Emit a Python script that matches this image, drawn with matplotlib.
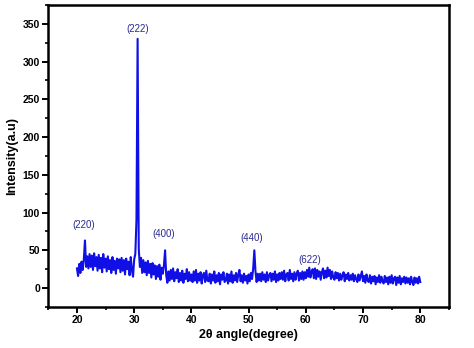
import numpy as np
import matplotlib.pyplot as plt
from matplotlib.ticker import MultipleLocator

plt.rcParams['font.family'] = ['Liberation Sans', 'DejaVu Sans']

# XRD scan, 20-80 deg in 0.2 deg steps
theta_start, theta_step = 20.0, 0.2
intensity = [
    26, 16, 32, 20, 35, 24, 38, 63, 28, 42,
    26, 45, 28, 43, 24, 46, 29, 41, 23, 44,
    26, 40, 21, 45, 27, 39, 22, 42, 25, 37,
    20, 41, 24, 36, 19, 39, 26, 38, 21, 40,
    23, 37, 18, 39, 25, 35, 17, 41, 24, 15,
    38, 45, 90, 330, 52, 28, 40, 20, 37, 21,
    34, 17, 36, 20, 32, 14, 33, 18, 30, 12,
    29, 15, 31, 11, 27, 19, 30, 50, 17, 7,
    22, 10, 24, 12, 26, 9, 21, 13, 25, 8,
    20, 10, 23, 7, 19, 12, 25, 9, 21, 10,
    18, 8, 22, 10, 24, 7, 19, 10, 21, 6,
    17, 20, 8, 23, 10, 9, 19, 6, 18, 10,
    22, 7, 17, 9, 20, 5, 18, 11, 21, 8,
    10, 19, 6, 18, 9, 22, 7, 17, 10, 20,
    8, 18, 24, 9, 17, 7, 19, 10, 16, 6,
    18, 9, 20, 12, 26, 50, 22, 8, 19, 10,
    19, 9, 21, 11, 18, 8, 21, 10, 17, 20,
    9, 19, 11, 22, 8, 18, 10, 20, 12, 21,
    11, 23, 9, 18, 20, 10, 24, 12, 19, 9,
    21, 11, 19, 23, 10, 20, 12, 22, 11, 21,
    13, 24, 15, 27, 14, 22, 25, 13, 26, 12,
    24, 15, 22, 11, 21, 26, 13, 23, 14, 27,
    16, 24, 12, 22, 14, 11, 21, 13, 20, 10,
    19, 11, 17, 21, 9, 18, 12, 20, 10, 17,
    11, 19, 9, 17, 12, 8, 18, 10, 16, 22,
    9, 16, 7, 18, 10, 8, 17, 6, 15, 9,
    16, 5, 14, 8, 17, 7, 15, 9, 6, 16,
    8, 14, 5, 15, 7, 17, 6, 13, 15, 4,
    14, 7, 16, 5, 13, 8, 15, 6, 14, 7,
    13, 5, 15, 8, 4, 14, 7, 13, 6, 15,
    8,
]
two_theta = theta_start + theta_step * np.arange(len(intensity))

# Miller indices and where their labels sit
hkl_labels = ['(220)', '(222)', '(400)', '(440)', '(622)']
hkl_x = [21.1, 30.65, 35.2, 50.6, 60.6]
hkl_y = [84, 343, 72, 66, 37]

fig = plt.figure(figsize=(4.74, 3.48), dpi=100)
ax = fig.add_axes([0.102, 0.118, 0.845, 0.868])

ax.plot(two_theta, intensity, color='#1010e6', linewidth=1.5)

for lab, x, y in zip(hkl_labels, hkl_x, hkl_y):
    ax.text(x, y, lab, color='#2a2a90', fontsize=7, ha='center', va='center')

ax.set_xlim(15, 85)
ax.set_ylim(-25, 375)
ax.xaxis.set_minor_locator(MultipleLocator(5))
ax.yaxis.set_minor_locator(MultipleLocator(25))
ax.set_xticks(np.arange(20, 81, 10))
ax.set_yticks(np.arange(0, 351, 50))

for s in ax.spines.values():
    s.set_linewidth(1.8)
ax.tick_params(which='major', direction='out', length=4, width=1.4, labelsize=7.5, pad=2)
ax.tick_params(which='minor', direction='out', length=2.5, width=1.2)
for lbl in ax.get_xticklabels() + ax.get_yticklabels():
    lbl.set_fontweight('bold')

ax.set_xlabel('2θ angle(degree)', fontsize=9, fontweight='bold', labelpad=3)
ax.set_ylabel('Intensity(a.u)', fontsize=9, fontweight='bold', labelpad=3)

fig.savefig('out.png', dpi=100)
